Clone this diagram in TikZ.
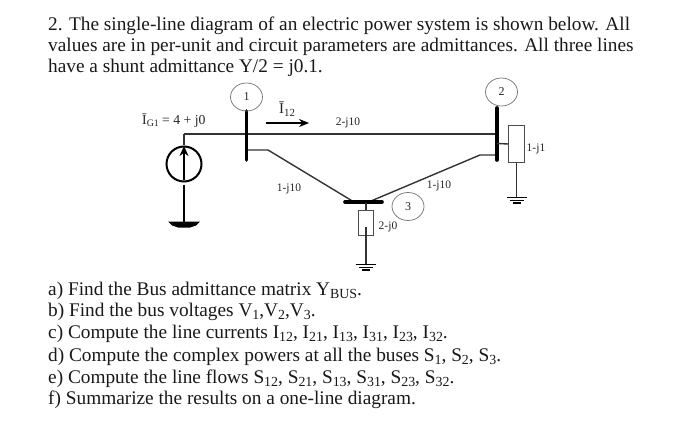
\documentclass[tikz,border=0pt]{standalone}
\usepackage{fontspec}
\setmainfont{Liberation Serif}
\usetikzlibrary{arrows.meta,shapes.geometric}
\newcommand{\lo}[1]{\raisebox{-0.18em}{\scalebox{0.72}{#1}}}
\tikzset{
  x=1pt,y=-1pt,
  txt/.style={anchor=base west,inner sep=0,font=\fontsize{19.3}{20}\selectfont,text=black!90},
  lab/.style={inner sep=0,font=\fontsize{11.5}{12}\selectfont,text=black!85},
  busid/.style={draw=black!55,ellipse,line width=0.7pt,minimum width=32pt,minimum height=28pt,inner sep=0,font=\fontsize{12}{12}\selectfont,text=black!85},
  wire/.style={draw=black!80,line width=1.4pt},
  busbar/.style={line width=3.6pt,draw=black,line cap=round},
  gbar/.style={draw=black,line width=1.2pt},
  shuntbox/.style={draw=black!70,line width=0.9pt,fill=white,inner sep=0}
}
\begin{document}
\begin{tikzpicture}
\useasboundingbox (0,0) rectangle (700,446);
\fill[white] (0,0) rectangle (700,446);
% problem text
\node[txt] (t1) at (48,31) {2. The single-line diagram of an electric power system is shown below. All};
\node[txt] (t2) at (48,52) {values are in per-unit and circuit parameters are admittances. All three lines};
\node[txt] (t3) at (48,73) {have a shunt admittance Y/2 = j0.1.};
\node[txt] (a) at (48,295) {a) Find the Bus admittance matrix Y\lo{BUS}.};
\node[txt] (b) at (48,316) {b) Find the bus voltages V\lo{1},V\lo{2},V\lo{3}.};
\node[txt] (c) at (48,338) {c) Compute the line currents I\lo{12}, I\lo{21}, I\lo{13}, I\lo{31}, I\lo{23}, I\lo{32}.};
\node[txt] (d) at (48,361) {d) Compute the complex powers at all the buses S\lo{1}, S\lo{2}, S\lo{3}.};
\node[txt] (e) at (48,383) {e) Compute the line flows S\lo{12}, S\lo{21}, S\lo{13}, S\lo{31}, S\lo{23}, S\lo{32}.};
\node[txt] (f) at (48,404) {f) Summarize the results on a one-line diagram.};
% anchor points
\coordinate (b1t) at (246.5,111);
\coordinate (b1b) at (246.5,160);
\coordinate (b2t) at (497,108);
\coordinate (b2b) at (497,160);
\coordinate (b3l) at (345,202);
\coordinate (b3r) at (382,202);
\coordinate (j1) at (184,134);
\coordinate (j2) at (497,134);
\coordinate (k1) at (247,150);
\coordinate (k2) at (268,150);
\coordinate (k3) at (354,202);
\coordinate (m1) at (371,201);
\coordinate (m2) at (480,155);
\coordinate (m3) at (497,155);
% wires
\draw[wire] (j1) -- (j2);
\draw[wire] (k1) -- (k2) -- (k3);
\draw[wire] (m1) -- (m2) -- (m3);
% generator
\node[draw=black,circle,line width=2pt,minimum size=35pt,inner sep=0] (gen) at (184,164) {};
\draw[wire] (j1) -- (gen.north);
\coordinate (gtop) at (184,146);
\coordinate (gstem) at (184,185);
\coordinate (gg) at (184,224);
\draw[line width=2.2pt,-{Stealth[length=10pt,width=9pt]}] (184,180) -- (gtop);
\draw[line width=2.6pt] (gstem) -- (gg);
\fill[black] (168,221.5) -- (200,221.5) -- (196,225.5) -- (190,227.5) -- (178,227.5) -- (172,225.5) -- cycle;
% buses
\draw[busbar] (b1t) -- (b1b);
\draw[busbar] (b2t) -- (b2b);
\draw[busbar] (b3l) -- (b3r);
\node[busid] (n1) at (246.5,97) {1};
\node[busid] (n2) at (501.5,92) {2};
\node[busid] (n3) at (408,206.5) {3};
% arrow I12
\coordinate (ia) at (266,123);
\coordinate (ib) at (309,123);
\draw[line width=1.1pt,-{Stealth[length=10pt,width=8pt]}] (ia) -- (ib);
% shunt bus 2
\node[shuntbox,minimum width=15.5pt,minimum height=36.5pt] (s2) at (516.5,144) {};
\coordinate (s2j) at (497,143.5);
\coordinate (g2) at (516.5,197);
\draw[wire] (s2j) -- (s2.west);
\draw[wire] (s2.south) -- (g2);
\draw[gbar,line width=1.6pt] (507,197.5) -- (527,197.5);
\draw[gbar] (510,200.5) -- (524,200.5);
\draw[gbar] (513,203) -- (521,203);
% shunt bus 3
\node[shuntbox,minimum width=15.5pt,minimum height=25pt] (s3) at (366,222.5) {};
\coordinate (s3j) at (366,203);
\coordinate (s3m) at (366,227);
\coordinate (g3) at (366,264);
\draw[wire] (s3j) -- (s3.north);
\draw[wire] (s3m) -- (g3);
\draw[gbar,line width=1.6pt] (356,264.5) -- (376,264.5);
\draw[gbar] (359,267.5) -- (373,267.5);
\draw[gbar] (362,270) -- (370,270);
% labels
\node[lab,anchor=base west,font=\fontsize{13.7}{14}\selectfont] (ig) at (142,124.5) {Ī\lo{G1} = 4 + j0};
\node[lab,anchor=base west,font=\fontsize{15}{15}\selectfont] (i12) at (279,114) {Ī\lo{12}};
\node[lab] (l12) at (348,123) {2-j10};
\node[lab] (l13) at (289,189) {1-j10};
\node[lab] (l23) at (439,185.5) {1-j10};
\node[lab] (l2) at (536,148.5) {1-j1};
\node[lab] (l3) at (388,227) {2-j0};
\end{tikzpicture}
\end{document}
